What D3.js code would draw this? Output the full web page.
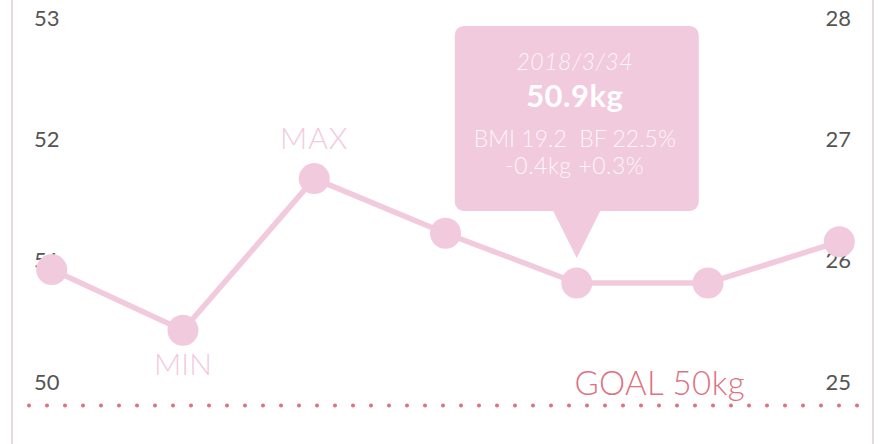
<!DOCTYPE html>
<html>
<head>
<meta charset="utf-8">
<script src="https://cdn.jsdelivr.net/npm/d3@7"></script>
<style>
  html, body { margin: 0; padding: 0; background: #fff; }
  svg { display: block; font-family: Lato, "Open Sans", sans-serif; }
  text { white-space: pre; }
</style>
</head>
<body>
<svg id="chart" width="882" height="444"></svg>
<script>
// data
const days = ['3/30', '3/31', '3/32', '3/33', '3/34', '3/35', '3/36'];
const weights = [51.12, 50.62, 51.87, 51.42, 51.01, 51.01, 51.35];
const weightTicks = [50, 51, 52, 53];
const bmiTicks = [25, 26, 27, 28];
const goalWeight = 50;
const goalLabel = 'GOAL 50kg';
const tipIndex = 4;
const tipLines = ['2018/3/34', '50.9kg', 'BMI 19.2  BF 22.5%', '-0.4kg +0.3%'];

const PINK = '#f2cadd';
const GOAL_COLOR = '#e0717f';
const TEXT_COLOR = '#555';

const svg = d3.select('#chart');
const width = +svg.attr('width');
const height = +svg.attr('height');

const x = d3.scalePoint()
    .domain(days)
    .range([51.7, 839.3]);
const yLeft = d3.scaleLinear()
    .domain([50, 53])
    .range([405.5, 41.5]);
const yRight = d3.scaleLinear()
    .domain([25, 28])
    .range([405.5, 41.5]);

// frame lines left and right
svg.append('line')
    .attr('x1', 12).attr('x2', 12)
    .attr('y1', 0).attr('y2', height)
    .attr('stroke', '#ead8df').attr('stroke-width', 2);
svg.append('line')
    .attr('x1', 873).attr('x2', 873)
    .attr('y1', 0).attr('y2', height)
    .attr('stroke', '#ead8df').attr('stroke-width', 2);

// axes (labels sit above their value)
const leftAxis = d3.axisRight(yLeft)
    .tickValues(weightTicks)
    .tickFormat(d3.format('d'))
    .tickSize(0)
    .tickPadding(0);
const rightAxis = d3.axisLeft(yRight)
    .tickValues(bmiTicks)
    .tickFormat(d3.format('d'))
    .tickSize(0)
    .tickPadding(0);

const gl = svg.append('g')
    .attr('transform', 'translate(34,0)')
    .call(leftAxis);
const gr = svg.append('g')
    .attr('transform', 'translate(851,0)')
    .call(rightAxis);

[gl, gr].forEach((g) => {
    g.select('.domain').remove();
    g.selectAll('text')
        .attr('dy', '-16.5')
        .attr('fill', TEXT_COLOR)
        .style('font-size', '22px')
        .style('font-weight', 400)
        .style('font-family', 'Lato, sans-serif');
});

// goal line
svg.append('line')
    .attr('x1', 29).attr('x2', 858)
    .attr('y1', yLeft(goalWeight)).attr('y2', yLeft(goalWeight))
    .attr('stroke', GOAL_COLOR)
    .attr('stroke-width', 4)
    .attr('stroke-linecap', 'round')
    .attr('stroke-dasharray', '0 18');

svg.append('text')
    .attr('x', 745)
    .attr('y', yLeft(goalWeight) - 11)
    .attr('text-anchor', 'end')
    .attr('fill', GOAL_COLOR)
    .style('font-size', '33px')
    .style('font-weight', 300)
    .style('letter-spacing', '0.4px')
    .text(goalLabel);

// weight line
const line = d3.line()
    .x((d, i) => x(days[i]))
    .y((d) => yLeft(d));

svg.append('path')
    .datum(weights)
    .attr('d', line)
    .attr('fill', 'none')
    .attr('stroke', PINK)
    .attr('stroke-width', 5.5)
    .attr('stroke-linejoin', 'round');

svg.selectAll('circle.pt')
    .data(weights)
    .join('circle')
    .attr('class', 'pt')
    .attr('cx', (d, i) => x(days[i]))
    .attr('cy', (d) => yLeft(d))
    .attr('r', 15.5)
    .attr('fill', PINK);

// max / min labels
const maxI = d3.maxIndex(weights);
const minI = d3.minIndex(weights);
svg.append('text')
    .attr('x', x(days[maxI]))
    .attr('y', yLeft(weights[maxI]) - 30)
    .attr('text-anchor', 'middle')
    .attr('fill', PINK)
    .style('font-size', '30px')
    .style('font-weight', 300)
    .style('letter-spacing', '1px')
    .text('MAX');
svg.append('text')
    .attr('x', x(days[minI]))
    .attr('y', yLeft(weights[minI]) + 45)
    .attr('text-anchor', 'middle')
    .attr('fill', PINK)
    .style('font-size', '30px')
    .style('font-weight', 300)
    .text('MIN');

// tooltip over the selected point
const tx = x(days[tipIndex]);
const ty = yLeft(weights[tipIndex]);
const tipW = 244;
const tipH = 185;
const tipBottom = ty - 72;
const tip = svg.append('g');

tip.append('rect')
    .attr('x', tx - tipW / 2)
    .attr('y', tipBottom - tipH)
    .attr('width', tipW)
    .attr('height', tipH)
    .attr('rx', 9)
    .attr('fill', PINK);
tip.append('path')
    .attr('d', `M${tx - 24},${tipBottom - 1} L${tx + 24},${tipBottom - 1} L${tx},${ty - 25} Z`)
    .attr('fill', PINK);

const tipTop = tipBottom - tipH;
const lineStyles = [
    { dy: 44, size: 23, weight: 300, italic: true, opacity: 0.85, spacing: 0.5 },
    { dy: 81, size: 31, weight: 700, italic: false, opacity: 1, spacing: 0.5 },
    { dy: 121, size: 23, weight: 300, italic: false, opacity: 0.85, spacing: 0 },
    { dy: 148, size: 23, weight: 300, italic: false, opacity: 0.85, spacing: 0.5 }
];
tipLines.forEach((t, i) => {
    const s = lineStyles[i];
    tip.append('text')
        .attr('x', tx - 2)
        .attr('y', tipTop + s.dy)
        .attr('text-anchor', 'middle')
        .attr('fill', '#fff')
        .attr('fill-opacity', s.opacity)
        .style('font-size', `${s.size}px`)
        .style('font-weight', s.weight)
        .style('font-style', s.italic ? 'italic' : 'normal')
        .style('letter-spacing', `${s.spacing}px`)
        .text(t);
});
</script>
</body>
</html>
